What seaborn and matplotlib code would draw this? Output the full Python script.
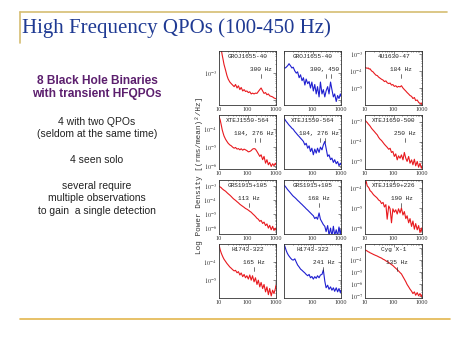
import numpy as np
import pandas as pd
import matplotlib
matplotlib.use("Agg")
import matplotlib.pyplot as plt
import seaborn as sns
from matplotlib.lines import Line2D
from matplotlib.ticker import FixedLocator, LogLocator, NullFormatter, FixedFormatter

# ---------------- data ----------------
freq = [10, 11, 12, 13, 14, 15, 17, 19, 21, 24, 27, 30, 34, 38, 43, 48, 54, 60, 68, 76,
        85, 95, 107, 120, 135, 150, 170, 190, 215, 240, 270, 300, 340, 380, 430, 480,
        540, 600, 680, 760, 850, 950, 1000]

# log10 power spectra, one per panel
gro1655_a = [-1.90, -2.00, -2.15, -2.36, -2.53, -2.70, -2.91, -3.11, -3.24, -3.35,
             -3.41, -3.46, -3.52, -3.44, -3.57, -3.49, -3.63, -3.55, -3.68, -3.63,
             -3.70, -3.68, -3.74, -3.71, -3.79, -3.76, -3.79, -3.76, -3.77, -3.70,
             -3.63, -3.57, -3.68, -3.77, -3.74, -3.82, -3.79, -3.86, -3.88, -3.90,
             -3.94, -3.96, -3.97]
gro1655_b = [-2.83, -2.83, -2.80, -2.76, -2.72, -2.67, -2.75, -2.83, -2.80, -2.94,
             -3.02, -2.97, -3.19, -3.08, -3.30, -3.19, -3.46, -3.24, -3.41, -3.33,
             -3.57, -3.35, -3.68, -3.44, -3.79, -3.52, -3.90, -3.35, -3.79, -3.63,
             -3.90, -3.68, -3.52, -3.79, -3.35, -3.63, -3.90, -3.79, -4.07, -3.85,
             -3.96, -3.79, -3.88]
u1630 = [-3.78, -3.82, -3.84, -3.82, -3.89, -3.87, -4.00, -4.05, -4.14, -4.25,
         -4.28, -4.37, -4.44, -4.50, -4.55, -4.64, -4.60, -4.71, -4.76, -4.73,
         -4.85, -4.82, -4.93, -4.89, -4.98, -4.93, -4.96, -4.89, -5.03, -5.12,
         -5.21, -5.30, -5.39, -5.48, -5.53, -5.66, -5.60, -5.78, -5.75, -5.89,
         -5.96, -5.93, -6.03]
xte1550_a = [-3.31, -3.49, -3.77, -4.04, -4.22, -4.37, -4.55, -4.67, -4.77, -4.86,
             -4.91, -4.98, -5.04, -5.00, -5.09, -5.06, -5.13, -5.07, -5.15, -5.09,
             -5.13, -5.17, -5.24, -5.22, -5.17, -5.09, -5.06, -5.09, -5.22, -5.35,
             -5.49, -5.40, -5.67, -5.49, -5.86, -5.67, -5.95, -5.82, -6.04, -5.89,
             -6.00, -5.86, -5.95]
xte1550_b = [-3.40, -3.49, -3.58, -3.64, -3.71, -3.77, -3.86, -3.95, -4.00, -4.13,
             -4.22, -4.31, -4.40, -4.49, -4.58, -4.67, -4.86, -4.77, -5.04, -4.91,
             -5.22, -5.04, -5.40, -5.09, -5.31, -5.04, -5.27, -4.98, -5.13, -4.86,
             -4.67, -5.04, -5.49, -5.40, -5.67, -5.58, -5.82, -5.67, -5.89, -5.77,
             -6.00, -5.86, -5.95]
xte1650 = [-2.92, -3.00, -3.05, -3.12, -3.17, -3.22, -3.34, -3.42, -3.49, -3.59,
           -3.67, -3.79, -3.89, -3.95, -4.05, -4.14, -4.22, -4.29, -4.39, -4.34,
           -4.55, -4.50, -4.75, -4.62, -4.92, -4.72, -4.84, -4.67, -4.92, -4.55,
           -4.84, -5.00, -4.75, -5.09, -4.92, -5.17, -4.89, -5.22, -5.00, -5.29,
           -5.09, -5.34, -5.25]
grs1915_a = [-3.00, -3.07, -3.12, -3.20, -3.25, -3.30, -3.37, -3.47, -3.55, -3.65,
             -3.75, -3.85, -3.95, -4.02, -4.12, -4.20, -4.30, -4.37, -4.45, -4.52,
             -4.60, -4.65, -4.72, -4.80, -4.87, -4.97, -5.07, -5.17, -5.30, -5.37,
             -5.52, -5.45, -5.67, -5.57, -5.82, -5.70, -6.00, -5.80, -6.12, -5.87,
             -6.17, -6.00, -6.12]
grs1915_b = [-2.92, -3.02, -3.12, -3.22, -3.30, -3.37, -3.50, -3.62, -3.72, -3.82,
             -3.92, -4.02, -4.12, -4.22, -4.32, -4.42, -4.52, -4.62, -4.72, -4.82,
             -4.92, -5.02, -5.12, -5.32, -5.22, -5.37, -4.92, -5.37, -5.57, -5.75,
             -5.87, -6.25, -5.82, -6.50, -6.00, -6.57, -5.87, -6.52, -6.12, -6.57,
             -5.92, -6.50, -6.12]
xte1859 = [-3.79, -3.68, -3.91, -3.96, -4.03, -4.14, -4.21, -4.31, -4.38, -4.45,
           -4.52, -4.61, -4.66, -4.79, -4.73, -4.96, -4.84, -5.57, -4.91, -5.05,
           -5.75, -5.05, -5.22, -5.10, -5.31, -5.05, -5.26, -5.01, -5.36, -5.19,
           -5.54, -5.40, -5.75, -5.54, -5.93, -5.66, -6.07, -5.79, -6.10, -5.89,
           -6.24, -6.01, -6.19]
h1743_a = [-3.09, -3.36, -3.54, -3.67, -3.78, -3.87, -3.99, -4.10, -4.18, -4.29,
           -4.36, -4.43, -4.50, -4.47, -4.60, -4.54, -4.72, -4.61, -4.81, -4.69,
           -4.87, -4.76, -4.94, -4.72, -5.00, -4.76, -5.09, -4.87, -5.23, -5.00,
           -5.36, -5.12, -5.45, -5.23, -5.63, -5.36, -5.78, -5.45, -5.85, -5.54,
           -5.72, -5.45, -5.27]
h1743_b = [-3.05, -3.23, -3.41, -3.54, -3.63, -3.70, -3.81, -3.89, -3.92, -3.85,
           -4.03, -4.18, -4.29, -4.40, -4.47, -4.54, -4.61, -4.69, -4.76, -4.69,
           -4.87, -4.80, -4.94, -4.81, -4.90, -4.76, -4.87, -4.72, -4.69, -4.45,
           -5.05, -5.41, -5.27, -5.49, -5.36, -5.54, -5.41, -5.60, -5.41, -5.63,
           -5.45, -5.67, -5.54]
cygx1 = [-3.14, -3.20, -3.25, -3.31, -3.34, -3.39, -3.45, -3.51, -3.56, -3.62,
         -3.67, -3.73, -3.79, -3.84, -3.93, -3.98, -4.07, -4.12, -4.21, -4.29,
         -4.38, -4.46, -4.58, -4.69, -4.80, -4.91, -5.05, -5.16, -5.39, -5.59,
         -5.81, -6.04, -6.24, -6.43, -6.60, -6.80, -6.66, -6.94, -6.72, -6.99,
         -6.80, -7.05, -6.89]

spectra = [gro1655_a, gro1655_b, u1630,
           xte1550_a, xte1550_b, xte1650,
           grs1915_a, grs1915_b, xte1859,
           h1743_a, h1743_b, cygx1]
source_names = ["GROJ1655-40", "GROJ1655-40", "4U1630-47",
                "XTEJ1550-564", "XTEJ1550-564", "XTEJ1650-500",
                "GRS1915+105", "GRS1915+105", "XTEJ1859+226",
                "H1743-322", "H1743-322", "Cyg X-1"]
qpo_labels = ["300 Hz", "300, 450", "184 Hz",
              "184, 276 Hz", "184, 276 Hz", "250 Hz",
              "113 Hz", "168 Hz", "190 Hz",
              "165 Hz", "241 Hz", "135 Hz"]
qpo_freqs = [[300], [300, 450], [184],
             [184, 276], [184, 276], [250],
             [113], [168], [190],
             [165], [241], [135]]
line_kind = ["red", "blue", "red"] * 4
ylims_log = [(-4.2, -2.2), (-4.2, -2.2), (-6.05, -2.80),
             (-6.18, -3.22), (-6.18, -3.22), (-5.38, -2.67),
             (-6.42, -2.57), (-6.42, -2.57), (-6.31, -3.61),
             (-5.96, -3.05), (-5.96, -3.05), (-7.17, -2.66)]
ylabel_exps = [[-3], [], [-3, -4, -5],
               [-4, -5, -6], [], [-3, -4, -5],
               [-3, -4, -5, -6], [], [-4, -5, -6],
               [-4, -5], [], [-3, -4, -5, -6, -7]]

rows = []
for i, s in enumerate(spectra):
    for f, p in zip(freq, s):
        rows.append({"panel": i, "freq": f, "power": 10.0 ** p})
df = pd.DataFrame(rows)

# ---------------- style ----------------
sns.set_theme(style="white")
plt.rcParams["font.family"] = ["Liberation Sans", "DejaVu Sans"]
plt.rcParams["mathtext.fontset"] = "stix"

W, H = 474, 355
fig = plt.figure(figsize=(W / 100, H / 100), dpi=100)
fig.patch.set_facecolor("white")

def fx(px):
    return px / W

def fy(py):
    return 1 - py / H

# slide decorations
gold = "#d6bd72"
fig.add_artist(Line2D([fx(20), fx(447)], [fy(12), fy(12)], color=gold, lw=1.2))
fig.add_artist(Line2D([fx(20), fx(20)], [fy(12), fy(43)], color=gold, lw=1.2))
fig.add_artist(Line2D([fx(20), fx(450)], [fy(319), fy(319)], color="#e3b64e", lw=1.2))

fig.text(fx(22), fy(33), "High Frequency QPOs (100-450 Hz)", fontsize=15,
         family="Liberation Serif", color="#1f3a93", va="baseline", ha="left")

purple = "#5c1f6e"
fig.text(fx(97), fy(81), "8 Black Hole Binaries", fontsize=8.6, fontweight="bold",
         color=purple, ha="center", va="center")
fig.text(fx(97), fy(94), "with transient HFQPOs", fontsize=8.6, fontweight="bold",
         color=purple, ha="center", va="center")
body = [("4 with two QPOs", 122), ("(seldom at the same time)", 134),
        ("4 seen solo", 160), ("several require", 186),
        ("multiple observations", 198), ("to gain  a single detection", 211)]
for txt, yy in body:
    fig.text(fx(97), fy(yy), txt, fontsize=7.5, color="#222222",
             ha="center", va="center")

fig.text(fx(199), fy(175), "Log Power Density [(rms/mean)²/Hz]", rotation=90,
         fontsize=5.5, family="Liberation Mono", color="#333333",
         ha="center", va="center")

# ---------------- panels ----------------
col_left = [219, 284, 365]
row_top = [51, 115, 180, 244]
pw, ph = 57, 54
colors = {"red": "#e8191e", "blue": "#1f1fd0"}

axes = []
qpo_texts = []
for i in range(12):
    r, c = divmod(i, 3)
    ax = fig.add_axes([fx(col_left[c]), fy(row_top[r] + ph), pw / W, ph / H])
    axes.append(ax)
    sub = df[df["panel"] == i]
    ax.set_xscale("log")
    ax.set_yscale("log")
    sns.lineplot(data=sub, x="freq", y="power", color=colors[line_kind[i]],
                 lw=0.8, ax=ax, estimator=None, legend=False)
    ax.set_xlim(10, 1000)
    lo, hi = ylims_log[i]
    ax.set_ylim(10.0 ** lo, 10.0 ** hi)
    ax.set_xlabel("")
    ax.set_ylabel("")
    ax.set_facecolor("white")
    for sp in ax.spines.values():
        sp.set_color("#333333")
        sp.set_linewidth(0.6)
    # x ticks
    ax.xaxis.set_major_locator(FixedLocator([10, 100, 1000]))
    xl = ["10", "100", "1000"] if c != 1 else ["", "100", "1000"]
    ax.xaxis.set_major_formatter(FixedFormatter(xl))
    ax.xaxis.set_minor_locator(LogLocator(base=10, subs=range(2, 10)))
    ax.xaxis.set_minor_formatter(NullFormatter())
    # y ticks
    decs = list(range(int(np.ceil(lo)), int(np.floor(hi)) + 1))
    ax.yaxis.set_major_locator(FixedLocator([10.0 ** d for d in decs]))
    ax.yaxis.set_major_formatter(FixedFormatter(
        [r"$10^{%d}$" % d if d in ylabel_exps[i] else "" for d in decs]))
    ax.yaxis.set_minor_locator(LogLocator(base=10, subs=range(2, 10), numticks=20))
    ax.yaxis.set_minor_formatter(NullFormatter())
    ax.tick_params(which="both", direction="in", top=True, right=True,
                   width=0.4, color="#333333", labelsize=4.5, pad=1.5,
                   labelcolor="#333333")
    ax.tick_params(which="major", length=2.0)
    ax.tick_params(which="minor", length=1.0)
    for lab in ax.get_xticklabels() + ax.get_yticklabels():
        lab.set_family("Liberation Serif")

    ax.text(0.5, 0.89, source_names[i], transform=ax.transAxes, ha="center",
            va="center", fontsize=4.4, family="Liberation Mono", color="#222222")
    fq = qpo_freqs[i]
    center = np.sqrt(min(fq) * max(fq))
    xf = (np.log10(center) - 1) / 2
    t = ax.text(xf, 0.66, qpo_labels[i], transform=ax.transAxes, ha="center",
                va="center", fontsize=4.4, family="Liberation Mono", color="#222222")
    qpo_texts.append((ax, t))
    for f in fq:
        ax.plot([f, f], [0.50, 0.57], transform=ax.get_xaxis_transform(),
                color="#222222", lw=0.45)

fig.canvas.draw()
rend = fig.canvas.get_renderer()
for ax, t in qpo_texts:
    bb = t.get_window_extent(rend)
    abb = ax.get_window_extent(rend)
    if bb.x1 > abb.x1 - 2:
        t.set_ha("right")
        t.set_x(1 - 2.0 / abb.width)

fig.savefig("out.png", dpi=100, facecolor="white")
